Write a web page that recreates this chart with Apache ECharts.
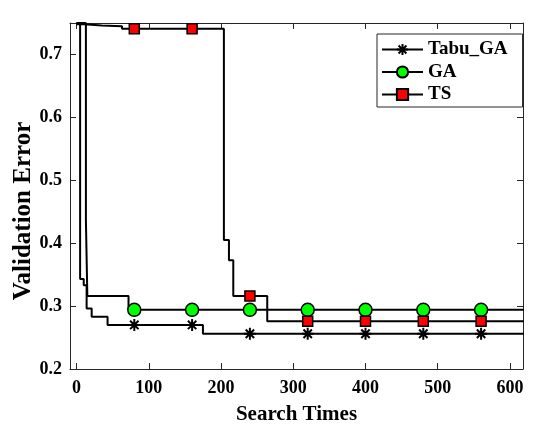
<!DOCTYPE html>
<html>
<head>
<meta charset="utf-8">
<script src="https://cdn.jsdelivr.net/npm/echarts@6/dist/echarts.min.js"></script>
<style>html,body{margin:0;padding:0;background:#fff}#c{width:550px;height:433px}</style>
</head>
<body>
<div id="c"></div>
<script>
// ---- data ----
const seriesNames = ['Tabu_GA', 'GA', 'TS'];
// step-function corner points (value holds from x until the next x)
const tabuX = [0, 5, 10, 14, 21, 43, 175, 620];
const tabuY = [0.75, 0.343, 0.333, 0.296, 0.283, 0.270, 0.256, 0.256];
const gaX = [0, 13, 15, 72, 620];
const gaY = [0.75, 0.437, 0.316, 0.294, 0.294];
const tsX = [0, 11, 35, 63, 204, 211, 217, 264, 620];
const tsY = [0.748, 0.746, 0.745, 0.741, 0.405, 0.373, 0.316, 0.276, 0.276];
// marker positions on the x axis
const markerX = [80, 160, 240, 320, 400, 480, 560];
// tick labels
const xTicks = [0, 100, 200, 300, 400, 500, 600];
const yTicks = [0.2, 0.3, 0.4, 0.5, 0.6, 0.7];

function stepValue(xs, ys, x) {
  let v = ys[0];
  for (let i = 0; i < xs.length; i++) { if (xs[i] <= x) v = ys[i]; }
  return v;
}
function buildData(xs, ys) {
  const pts = xs.map((x, i) => ({ value: [x, ys[i]], symbol: 'none' }));
  markerX.forEach(mx => pts.push({ value: [mx, stepValue(xs, ys, mx)] }));
  pts.sort((a, b) => a.value[0] - b.value[0]);
  return pts;
}

const FONT = 'Liberation Serif';
const axisColor = '#262626';
const star = 'path://M10,0 L10,20 M0,10 L20,10 M3,3 L17,17 M3,17 L17,3';

const chart = echarts.init(document.getElementById('c'), null, { renderer: 'canvas' });
chart.setOption({
  animation: false,
  backgroundColor: '#fff',
  grid: { left: 70, right: 27, top: 23, bottom: 64, show: false, containLabel: false, outerBoundsMode: 'none' },
  legend: {
    orient: 'vertical', left: 377, top: 34,
    itemWidth: 41, itemHeight: 14, itemGap: 3.5,
    padding: [6, 15, 3, 4],
    borderColor: axisColor, borderWidth: 1, backgroundColor: '#fff',
    textStyle: { fontFamily: FONT, fontWeight: 'bold', fontSize: 19, color: '#000', lineHeight: 19 },
    data: seriesNames
  },
  xAxis: [{
    type: 'value', min: -9, max: 618, position: 'bottom',
    name: 'Search Times', nameLocation: 'middle', nameGap: 35, nameMoveOverlap: false,
    nameTextStyle: { fontFamily: FONT, fontWeight: 'bold', fontSize: 21, color: '#000' },
    axisLine: { show: true, onZero: false, lineStyle: { color: axisColor, width: 1 } },
    axisTick: { show: true, inside: true, length: 6, customValues: xTicks, lineStyle: { color: axisColor } },
    axisLabel: { customValues: xTicks, margin: 10, fontFamily: FONT, fontWeight: 'bold', fontSize: 18, color: '#000' },
    splitLine: { show: false }
  }, {
    type: 'value', min: -9, max: 618, position: 'top',
    axisLine: { show: true, onZero: false, lineStyle: { color: axisColor, width: 1 } },
    axisTick: { show: true, inside: true, length: 6, customValues: xTicks, lineStyle: { color: axisColor } },
    axisLabel: { show: false }, splitLine: { show: false }
  }],
  yAxis: [{
    type: 'value', min: 0.2, max: 0.75, position: 'left',
    name: 'Validation Error', nameLocation: 'middle', nameGap: 34, nameMoveOverlap: false,
    nameTextStyle: { fontFamily: FONT, fontWeight: 'bold', fontSize: 25, color: '#000', padding: [0, 30, 0, 0] },
    axisLine: { show: true, onZero: false, lineStyle: { color: axisColor, width: 1 } },
    axisTick: { show: true, inside: true, length: 6, customValues: yTicks, lineStyle: { color: axisColor } },
    axisLabel: { customValues: yTicks, margin: 8, formatter: v => v.toFixed(1), fontFamily: FONT, fontWeight: 'bold', fontSize: 18, color: '#000' },
    splitLine: { show: false }
  }, {
    type: 'value', min: 0.2, max: 0.75, position: 'right',
    axisLine: { show: true, onZero: false, lineStyle: { color: axisColor, width: 1 } },
    axisTick: { show: true, inside: true, length: 6, customValues: yTicks, lineStyle: { color: axisColor } },
    axisLabel: { show: false }, splitLine: { show: false }
  }],
  series: [{
    name: 'Tabu_GA', type: 'line', step: 'end', data: buildData(tabuX, tabuY),
    symbol: star, symbolSize: 12, showSymbol: true, showAllSymbol: true,
    lineStyle: { color: '#000', width: 2 },
    itemStyle: { color: '#000', borderColor: '#000', borderWidth: 2 },
    z: 3
  }, {
    name: 'GA', type: 'line', step: 'end', data: buildData(gaX, gaY),
    symbol: 'circle', symbolSize: 13, showSymbol: true, showAllSymbol: true,
    lineStyle: { color: '#000', width: 2 },
    itemStyle: { color: '#00ff00', borderColor: '#000', borderWidth: 1.5 },
    z: 4
  }, {
    name: 'TS', type: 'line', step: 'end', data: buildData(tsX, tsY),
    symbol: 'rect', symbolSize: 10, showSymbol: true, showAllSymbol: true,
    lineStyle: { color: '#000', width: 2 },
    itemStyle: { color: '#ff0000', borderColor: '#000', borderWidth: 1.5 },
    z: 5
  }]
});
</script>
</body>
</html>
